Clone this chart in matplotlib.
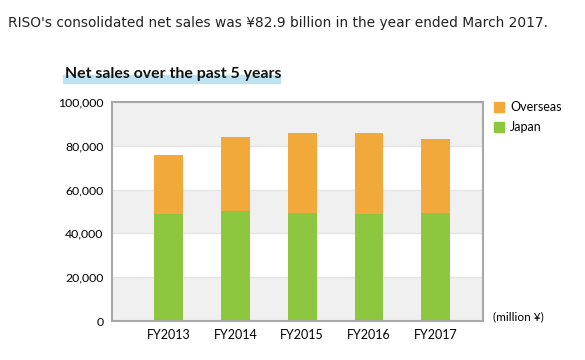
import numpy as np
import matplotlib.pyplot as plt
from matplotlib.patches import Rectangle

# data (million yen)
years = ['FY2013', 'FY2014', 'FY2015', 'FY2016', 'FY2017']
japan = [48900, 50200, 49300, 49000, 49300]
overseas = [26900, 33800, 36500, 36800, 33600]
yticks = [0, 20000, 40000, 60000, 80000, 100000]

orange = '#F2A93B'
green = '#8DC63F'
band = '#F0F0F0'
frame = '#A8A8A8'
lab_font = 'Lato'

fig = plt.figure(figsize=(5.85, 3.6), dpi=100)
ax = fig.add_axes([112/585, 39/360, 371/585, 219/360])

x = np.arange(len(years))
# alternating background bands
for i in range(0, len(yticks) - 1):
    if i % 2 == 0:
        ax.axhspan(yticks[i], yticks[i+1], color=band, zorder=0, lw=0)
for t in yticks[1:-1]:
    ax.axhline(t, color='#E4E4E4', lw=1, zorder=0.5)

ax.bar(x, japan, width=0.43, color=green, zorder=2, label='Japan')
ax.bar(x, overseas, bottom=japan, width=0.43, color=orange, zorder=2, label='Overseas')

ax.set_xlim(-0.85, 4.71)
ax.set_ylim(0, 100000)
ax.set_yticks(yticks)
ax.set_yticklabels([f'{t:,}' for t in yticks], fontfamily=lab_font, fontsize=8.8)
ax.set_xticks(x)
ax.set_xticklabels(years, fontfamily=lab_font, fontsize=9)
ax.tick_params(length=0, pad=6)
for s in ax.spines.values():
    s.set_color(frame)
    s.set_linewidth(1.5)

# legend drawn as squares + text
fig.patches.append(Rectangle((494/585, (360-112)/360), 10/585, 10/360,
                             transform=fig.transFigure, color=orange))
fig.text(510/585, (360-107)/360, 'Overseas', fontfamily=lab_font, fontsize=9, va='center')
fig.patches.append(Rectangle((494/585, (360-132)/360), 10/585, 10/360,
                             transform=fig.transFigure, color=green))
fig.text(510/585, (360-127)/360, 'Japan', fontfamily=lab_font, fontsize=9, va='center')
fig.text(493/585, (360-317)/360, '(million ¥)', fontfamily=lab_font, fontsize=8.6, va='center')

# headline and chart title
fig.text(8/585, (360-23)/360, "RISO's consolidated net sales was ¥82.9 billion in the year ended March 2017.",
         fontfamily='DejaVu Sans', fontsize=9.95, va='center', color='#222222')
fig.patches.append(Rectangle((63/585, (360-83)/360), 217/585, 8/360,
                             transform=fig.transFigure, color='#BDE3F3'))
fig.text(65/585, (360-74)/360, 'Net sales over the past 5 years', fontfamily=lab_font,
         fontweight='bold', fontsize=11.4, va='center', color='#111111')

fig.savefig('out.png', dpi=100)
